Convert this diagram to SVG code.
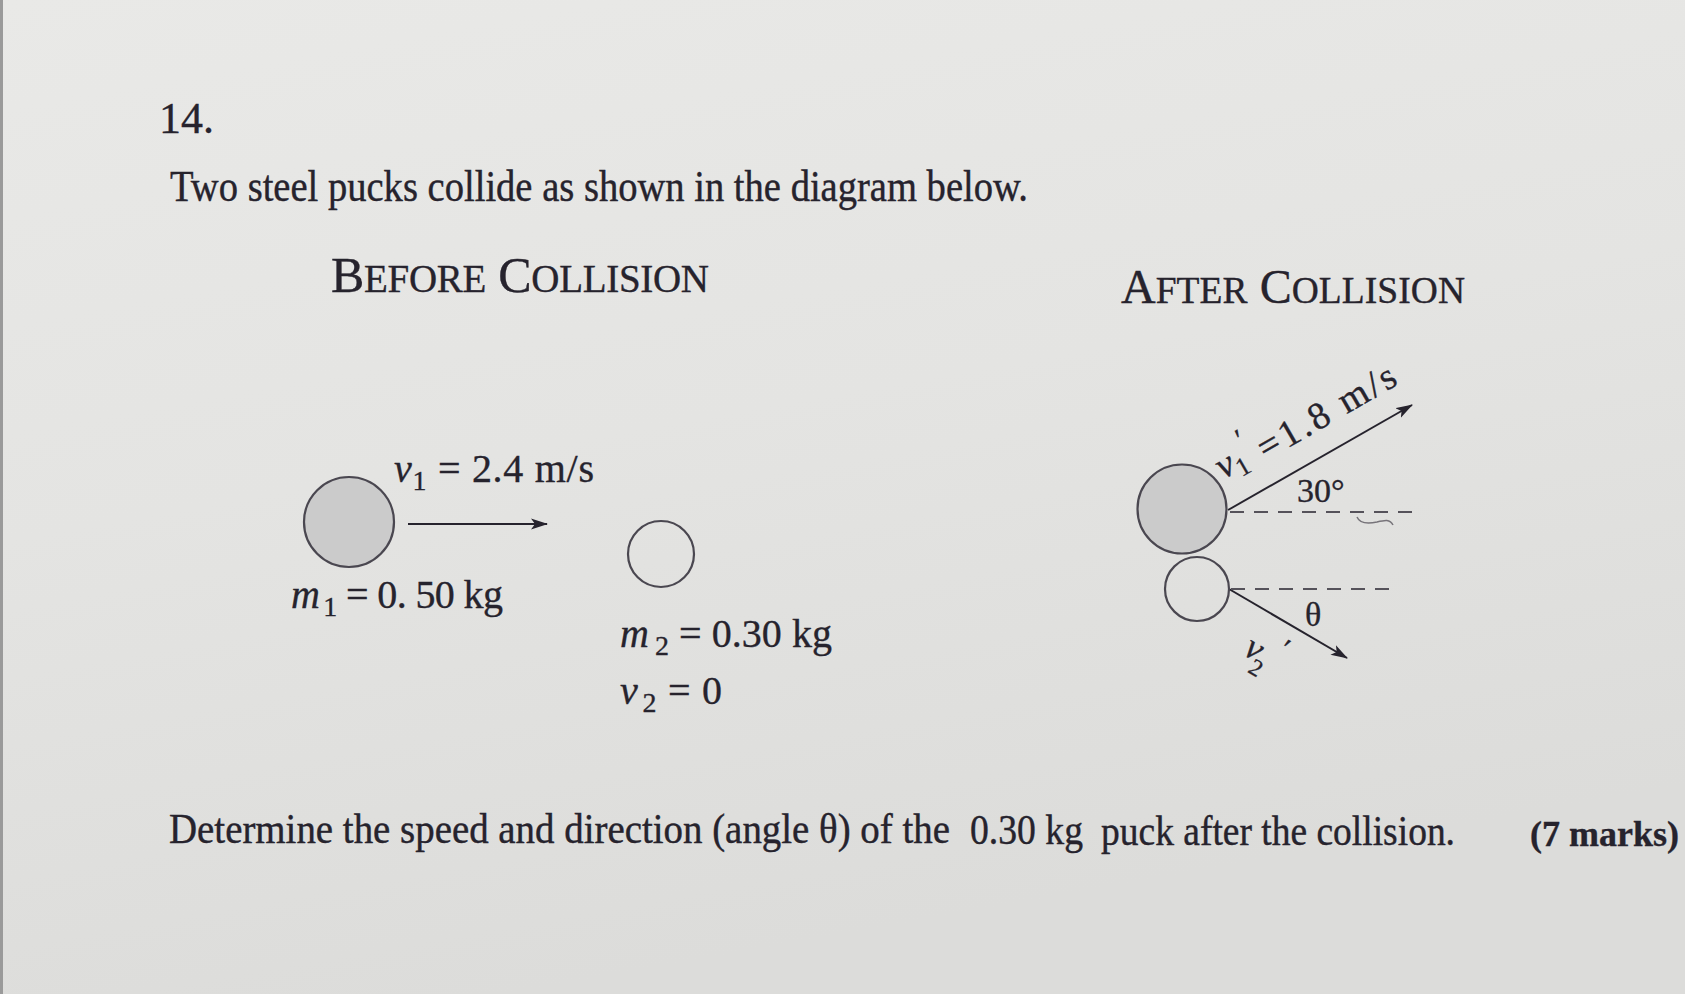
<svg xmlns="http://www.w3.org/2000/svg" width="1685" height="994" viewBox="0 0 1685 994">
  <defs>
    <linearGradient id="bg" x1="0" y1="0" x2="0.3" y2="1">
      <stop offset="0" stop-color="#e9e9e7"/>
      <stop offset="0.5" stop-color="#e4e4e2"/>
      <stop offset="1" stop-color="#dcdcda"/>
    </linearGradient>
    <marker id="ah" markerUnits="userSpaceOnUse" markerWidth="18" markerHeight="12" refX="16" refY="6" orient="auto">
      <path d="M0,0.5 L17,6 L0,11.5 L4,6 Z" fill="#26232d"/>
    </marker>
    <style>
      text { font-family: "Liberation Serif", "Times New Roman", serif; fill: #26232d; stroke: #26232d; stroke-width: 0.35; }
      .it { font-style: italic; }
      .puck { stroke: #4a4750; stroke-width: 2.2; }
      .filled { fill: #cbcbcb; }
      .empty { fill: none; }
      .vec { stroke: #26232d; stroke-width: 2; fill: none; marker-end: url(#ah); }
      .dash { stroke: #55525a; stroke-width: 2; stroke-dasharray: 14 10; fill: none; }
    </style>
  </defs>
  <rect width="1685" height="994" fill="url(#bg)"/>
  <rect width="3" height="994" fill="#9a9a9a"/>

  <g id="header">
    <text x="159" y="133" font-size="44">14.</text>
    <text transform="translate(170,201) scale(1,1.15)" x="0" y="0" font-size="38" textLength="858" lengthAdjust="spacingAndGlyphs">Two steel pucks collide as shown in the diagram below.</text>
    <text x="331" y="292" font-size="50" textLength="378" lengthAdjust="spacing">B<tspan font-size="39">EFORE</tspan> C<tspan font-size="39">OLLISION</tspan></text>
    <text x="1121" y="303" font-size="48" textLength="344" lengthAdjust="spacing">A<tspan font-size="37.5">FTER</tspan> C<tspan font-size="37.5">OLLISION</tspan></text>
  </g>

  <g id="connectors">
    <line class="vec" x1="408" y1="524" x2="547" y2="524"/>
    <line class="vec" x1="1228" y1="510" x2="1412" y2="405"/>
    <line class="vec" x1="1229" y1="589" x2="1347" y2="658"/>
    <line class="dash" x1="1230" y1="512" x2="1412" y2="512"/>
    <line class="dash" x1="1231" y1="589" x2="1395" y2="589"/>
    <path d="M1357,517 C1360,524 1368,524 1377,522 C1385,520 1390,519 1393,525" stroke="#77747a" stroke-width="1.5" fill="none"/>
  </g>

  <g id="puck1-before">
    <circle class="puck filled" cx="349" cy="522" r="45"/>
    <text x="394" y="482" font-size="40" textLength="200" lengthAdjust="spacing"><tspan class="it">v</tspan><tspan font-size="28" dy="8">1</tspan><tspan dy="-8"> = 2.4 m/s</tspan></text>
    <text x="291" y="608" font-size="40" textLength="212" lengthAdjust="spacing"><tspan class="it">m</tspan><tspan font-size="28" dx="4" dy="8">1</tspan><tspan dy="-8"> = 0. 50 kg</tspan></text>
  </g>

  <g id="puck2-before">
    <circle class="puck empty" cx="661" cy="554" r="33"/>
    <text x="620" y="647" font-size="40" textLength="212" lengthAdjust="spacing"><tspan class="it">m</tspan><tspan font-size="28" dx="6" dy="8">2</tspan><tspan dy="-8"> = 0.30 kg</tspan></text>
    <text x="620" y="704" font-size="40" textLength="102" lengthAdjust="spacing"><tspan class="it">v</tspan><tspan font-size="28" dx="4" dy="8">2</tspan><tspan dy="-8"> = 0</tspan></text>
  </g>

  <g id="puck1-after">
    <circle class="puck filled" cx="1182" cy="509" r="44.5"/>
    <g transform="translate(1222,477) rotate(-30)">
      <text x="0" y="3" font-size="38" class="it">v</text>
      <text x="17" y="10" font-size="26">1</text>
      <text x="32" y="-14" font-size="30">′</text>
      <text x="46" y="8" font-size="38" textLength="154" lengthAdjust="spacing">=1.8 m/s</text>
    </g>
    <text x="1297" y="502" font-size="34">30°</text>
  </g>

  <g id="puck2-after">
    <circle class="puck empty" cx="1197" cy="589" r="32"/>
    <text x="1305" y="626" font-size="34">θ</text>
    <g transform="translate(1242,654) rotate(30)">
      <text x="0" y="0" font-size="36" class="it">v</text>
      <text x="13" y="13" font-size="24">2</text>
      <text x="31" y="-16" font-size="30">′</text>
    </g>
  </g>

  <g id="question">
    <text transform="translate(169,843) scale(1,1.16)" x="0" y="0" font-size="36" textLength="781" lengthAdjust="spacingAndGlyphs">Determine the speed and direction (angle θ) of the</text>
    <text transform="translate(970,844) scale(1,1.16)" x="0" y="0" font-size="36" textLength="113" lengthAdjust="spacingAndGlyphs">0.30 kg</text>
    <text transform="translate(1101,845) scale(1,1.16)" x="0" y="0" font-size="36" textLength="354" lengthAdjust="spacingAndGlyphs">puck after the collision.</text>
    <text x="1530" y="846" font-size="36" font-weight="bold">(7 marks)</text>
  </g>
</svg>
